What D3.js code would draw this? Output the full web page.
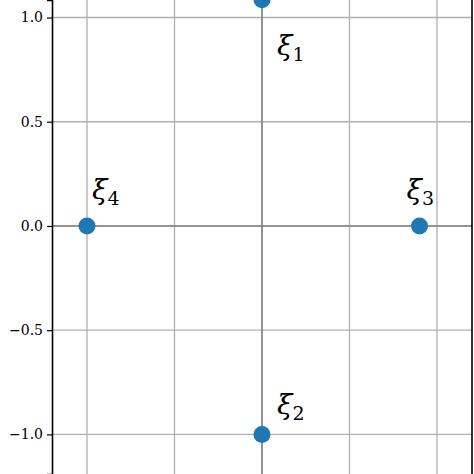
<!DOCTYPE html>
<html><head><meta charset="utf-8">
<script src="https://cdn.jsdelivr.net/npm/d3@7"></script>
<style>body{margin:0;background:#fff}svg{display:block}</style>
</head><body>
<svg id="chart" width="474" height="474"></svg>
<script>
const names = ["1", "2", "3", "4"];
const xs = [0, 0, 0.9, -1.0];
const ys = [1.085, -1.0, 0, 0];
const yTicks = [-1.0, -0.5, 0.0, 0.5, 1.0];
const xGrid = [-1.0, -0.5, 0, 0.5, 1.0];
// label offsets in px (dx, dy of baseline-left)
const labelOff = [[15, 55], [15, -20], [-13, -27], [5, -27]];

const svg = d3.select("#chart");
const pLeft = 52, pRight = 472, pTop = 0, pBottom = 474;
const x = d3.scaleLinear().domain([-1.2, 1.2]).range([pLeft, pRight]);
const y = d3.scaleLinear().domain([-1.19, 1.084]).range([pBottom, pTop]);

const g = svg.append("g");
g.selectAll(".gx").data(xGrid).enter().append("line")
  .attr("x1", d => x(d)).attr("x2", d => x(d)).attr("y1", pTop).attr("y2", pBottom)
  .attr("stroke", "#b0b0b0").attr("stroke-width", 1.3);
g.selectAll(".gy").data(yTicks).enter().append("line")
  .attr("x1", pLeft).attr("x2", pRight).attr("y1", d => y(d)).attr("y2", d => y(d))
  .attr("stroke", "#b0b0b0").attr("stroke-width", 1.3);

// zero axes
g.append("line").attr("x1", x(0)).attr("x2", x(0)).attr("y1", pTop).attr("y2", pBottom)
  .attr("stroke", "#808080").attr("stroke-width", 1.5);
g.append("line").attr("x1", pLeft).attr("x2", pRight).attr("y1", y(0)).attr("y2", y(0))
  .attr("stroke", "#808080").attr("stroke-width", 1.5);

const fmt = d => (d < 0 ? "\u2212" : "") + Math.abs(d).toFixed(1);
const ay = svg.append("g").attr("transform", `translate(${pLeft},0)`)
  .call(d3.axisLeft(y).tickValues(yTicks).tickFormat(fmt).tickSize(5).tickPadding(4));
ay.select(".domain").attr("stroke", "#000").attr("stroke-width", 1.6);
ay.selectAll("text").attr("font-family", "'DejaVu Serif', serif").attr("font-size", 14).attr("fill", "#000");
ay.selectAll("line").attr("stroke-width", 1.2);

svg.append("line").attr("x1", pRight).attr("x2", pRight).attr("y1", pTop).attr("y2", pBottom)
  .attr("stroke", "#000").attr("stroke-width", 1.6);

const pts = names.map((n, i) => ({n, x: xs[i], y: ys[i], o: labelOff[i]}));
svg.selectAll("circle").data(pts).enter().append("circle")
  .attr("cx", d => x(d.x)).attr("cy", d => y(d.y)).attr("r", 8.5).attr("fill", "#1f77b4");

const lab = svg.selectAll(".lab").data(pts).enter().append("text")
  .attr("x", d => x(d.x) + d.o[0]).attr("y", d => y(d.y) + d.o[1])
  .attr("font-family", "'DejaVu Serif', serif").attr("font-size", 28).attr("fill", "#000");
lab.append("tspan").attr("font-style", "italic").text("\u03be");
lab.append("tspan").attr("font-size", 19).attr("dy", 6).text(d => d.n);
</script>
</body></html>
